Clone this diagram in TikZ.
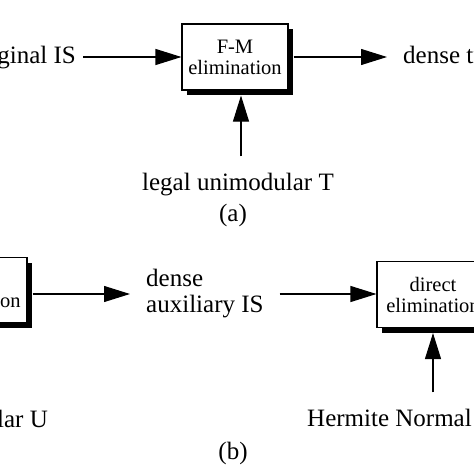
\documentclass[tikz,border=0pt]{standalone}
\usepackage{fontspec}
\setmainfont{Liberation Serif}
\usetikzlibrary{arrows.meta,shadows}
\begin{document}
\begin{tikzpicture}[x=1pt,y=-1pt,
  lbl/.style={inner sep=0pt,font=\fontsize{25}{26}\selectfont},
  proc/.style={draw,line width=1.1pt,fill=white,minimum width=106pt,minimum height=66pt,
    inner sep=0pt,align=center,font=\fontsize{20.5}{21}\selectfont,
    drop shadow={shadow xshift=5pt,shadow yshift=-5pt,fill=black,opacity=1}},
  arr/.style={line width=1.1pt,-{Triangle[length=26pt,width=16pt]}}]
\useasboundingbox (0,0) rectangle (474,474);
\clip (0,0) rectangle (474,474);
% (a)
\node[proc] (boxA) at (235,57) {F-M\\elimination};
\node[lbl,anchor=base east] (ain) at (76,63) {original IS};
\node[lbl,anchor=base west] (aout) at (403,63) {dense transformed IS};
\node[lbl,anchor=base] (aT) at (238,190) {legal unimodular T};
\node[lbl,anchor=base] (capA) at (233,221) {(a)};
\coordinate (aE) at ([xshift=5pt]boxA.east);
\coordinate (aS) at ([xshift=6pt,yshift=-5pt]boxA.south);
\draw[arr,shorten <=7pt] (ain.east |- boxA.west) -- (boxA.west);
\draw[arr,shorten >=16pt] (aE) -- (aE -| aout.west);
\draw[arr,shorten <=16pt] (aS |- aT.north) -- (aS);
% (b)
\node[proc,minimum height=65pt] (boxL) at (-26,290) {F-M\\elimination};
\node[lbl,anchor=west,align=left] (dAux) at (146,294) {dense\\auxiliary IS};
\node[proc,minimum width=112pt] (boxR) at (433,294.5) {direct\\elimination};
\node[lbl,anchor=base east] (uU) at (48,427) {unimodular U};
\node[lbl,anchor=base west] (hnf) at (307,426) {Hermite Normal Form};
\node[lbl,anchor=base] (capB) at (233,459) {(b)};
\path (boxL.east |- dAux.west) ++(5,0) coordinate (lE);
\coordinate (rS) at ([yshift=-5pt]boxR.south);
\draw[arr,shorten >=16pt] (lE) -- (dAux.west);
\draw[arr,shorten <=16pt] (dAux.east) -- (dAux.east -| boxR.west);
\draw[arr,shorten <=16pt] (rS |- hnf.north) -- (rS);
\end{tikzpicture}
\end{document}
